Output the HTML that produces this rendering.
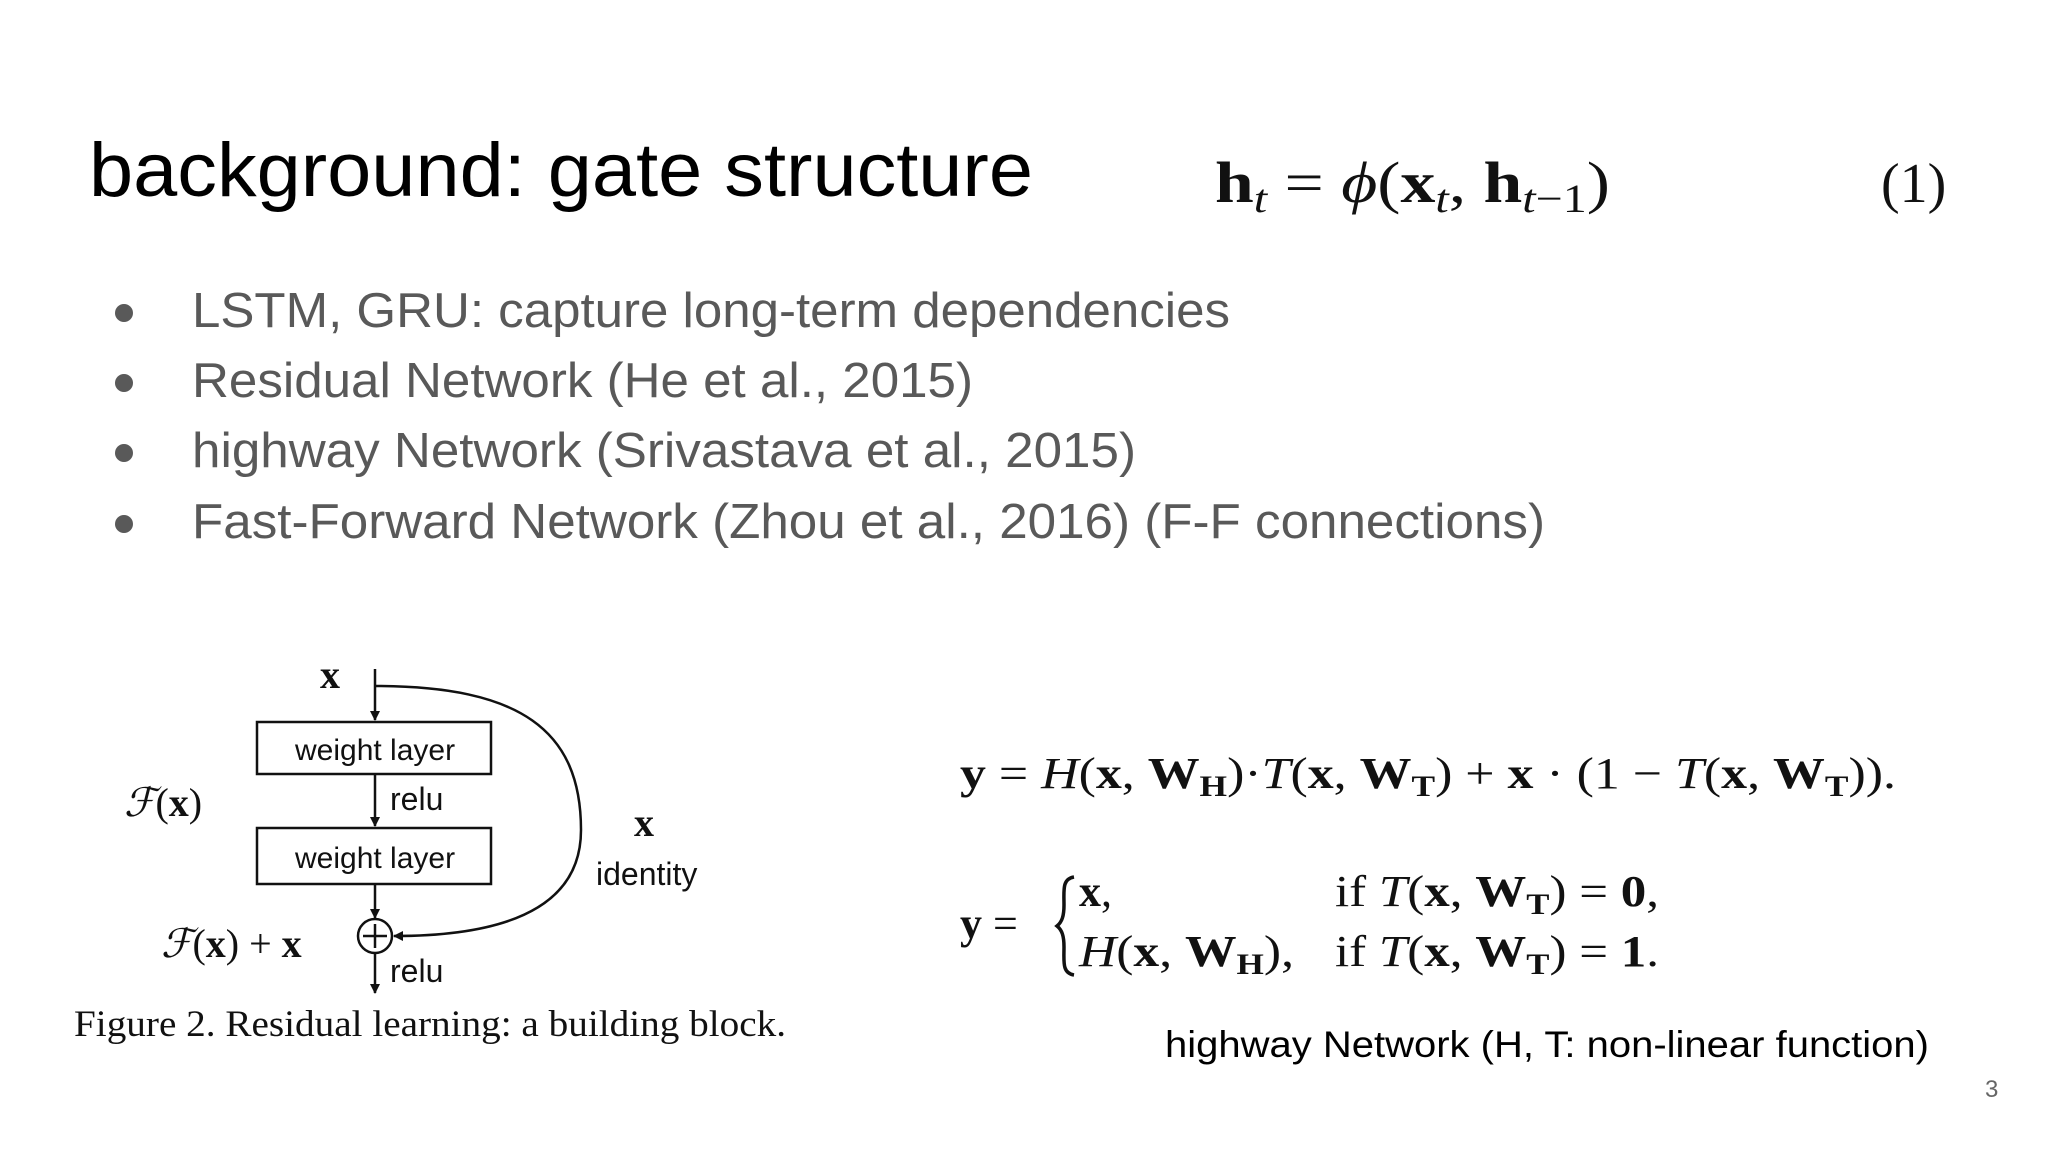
<!DOCTYPE html>
<html><head><meta charset="utf-8"><style>
html,body{margin:0;padding:0;background:#fff;}
svg{display:block}
.s{font-family:"Liberation Serif",serif;fill:#111}
.a{font-family:"Liberation Sans",sans-serif}
</style></head><body>
<svg width="2048" height="1152" viewBox="0 0 2048 1152" xmlns="http://www.w3.org/2000/svg">
<rect width="2048" height="1152" fill="#fff"/>
<text x="89" y="196" class="a" font-size="76" fill="#000" textLength="944" lengthAdjust="spacingAndGlyphs">background: gate structure</text>
<text x="1215" y="202" class="s" font-size="58" textLength="395" lengthAdjust="spacingAndGlyphs"><tspan font-weight="bold">h</tspan><tspan font-style="italic" font-size="40" dy="10">t</tspan><tspan dy="-10"> = </tspan><tspan font-style="italic">ϕ</tspan>(<tspan font-weight="bold">x</tspan><tspan font-style="italic" font-size="40" dy="10">t</tspan><tspan dy="-10">, </tspan><tspan font-weight="bold">h</tspan><tspan font-style="italic" font-size="40" dy="10">t</tspan><tspan font-size="40">−1</tspan><tspan dy="-10">)</tspan></text>
<text x="1881" y="202" class="s" font-size="56">(1)</text>
<g class="a" font-size="49" fill="#595959">
<circle cx="124" cy="313" r="9"/><text x="192" y="327" textLength="1038" lengthAdjust="spacingAndGlyphs">LSTM, GRU: capture long-term dependencies</text>
<circle cx="124" cy="383" r="9"/><text x="192" y="397" textLength="781" lengthAdjust="spacingAndGlyphs">Residual Network (He et al., 2015)</text>
<circle cx="124" cy="453" r="9"/><text x="192" y="467" textLength="944" lengthAdjust="spacingAndGlyphs">highway Network (Srivastava et al., 2015)</text>
<circle cx="124" cy="524" r="9"/><text x="192" y="538" textLength="1353" lengthAdjust="spacingAndGlyphs">Fast-Forward Network (Zhou et al., 2016) (F-F connections)</text>
</g>
<defs><marker id="ar" markerWidth="10" markerHeight="10" refX="9" refY="5" orient="auto" markerUnits="userSpaceOnUse"><path d="M0,0 L10,5 L0,10 Z" fill="#111"/></marker></defs>
<g stroke="#111" stroke-width="2.5" fill="none">
<line x1="375" y1="669" x2="375" y2="720" marker-end="url(#ar)"/>
<rect x="257" y="722" width="234" height="52"/>
<line x1="375" y1="774" x2="375" y2="826" marker-end="url(#ar)"/>
<rect x="257" y="828" width="234" height="56"/>
<line x1="375" y1="884" x2="375" y2="918" marker-end="url(#ar)"/>
<circle cx="375" cy="936" r="17"/>
<line x1="363" y1="936" x2="387" y2="936"/><line x1="375" y1="924" x2="375" y2="948"/>
<line x1="375" y1="953" x2="375" y2="993" marker-end="url(#ar)"/>
<path d="M375,686 C520,686 581,730 581,830 C581,900 520,936 394,936" marker-end="url(#ar)"/>
</g>
<g class="s" font-size="40">
<text x="320" y="688" font-weight="bold">x</text>
<text x="124" y="816"><tspan font-style="italic">ℱ</tspan>(<tspan font-weight="bold">x</tspan>)</text>
<text x="161" y="957"><tspan font-style="italic">ℱ</tspan>(<tspan font-weight="bold">x</tspan>) + <tspan font-weight="bold">x</tspan></text>
<text x="634" y="836" font-weight="bold">x</text>
</g>
<g class="a" font-size="30" fill="#111">
<text x="295" y="760">weight layer</text>
<text x="295" y="868">weight layer</text>
<text x="390" y="810" font-size="32">relu</text>
<text x="390" y="982" font-size="32">relu</text>
<text x="596" y="885" font-size="32">identity</text>
</g>
<text x="74" y="1036" class="s" font-size="37" textLength="712" lengthAdjust="spacingAndGlyphs">Figure 2. Residual learning: a building block.</text>
<g class="s" font-size="44">
<text x="960" y="788" textLength="936" lengthAdjust="spacingAndGlyphs"><tspan font-weight="bold">y</tspan> = <tspan font-style="italic">H</tspan>(<tspan font-weight="bold">x</tspan>, <tspan font-weight="bold">W<tspan font-size="30" dy="8">H</tspan></tspan><tspan dy="-8">)·</tspan><tspan font-style="italic">T</tspan>(<tspan font-weight="bold">x</tspan>, <tspan font-weight="bold">W<tspan font-size="30" dy="8">T</tspan></tspan><tspan dy="-8">) + </tspan><tspan font-weight="bold">x</tspan> · (1 − <tspan font-style="italic">T</tspan>(<tspan font-weight="bold">x</tspan>, <tspan font-weight="bold">W<tspan font-size="30" dy="8">T</tspan></tspan><tspan dy="-8">)).</tspan></text>
<text x="960" y="938"><tspan font-weight="bold">y</tspan> =</text>
<text x="1079" y="906"><tspan font-weight="bold">x</tspan>,</text>
<text x="1079" y="966" textLength="215" lengthAdjust="spacingAndGlyphs"><tspan font-style="italic">H</tspan>(<tspan font-weight="bold">x</tspan>, <tspan font-weight="bold">W<tspan font-size="30" dy="8">H</tspan></tspan><tspan dy="-8">),</tspan></text>
<text x="1335" y="906" textLength="324" lengthAdjust="spacingAndGlyphs">if <tspan font-style="italic">T</tspan>(<tspan font-weight="bold">x</tspan>, <tspan font-weight="bold">W<tspan font-size="30" dy="8">T</tspan></tspan><tspan dy="-8">) = </tspan><tspan font-weight="bold">0</tspan>,</text>
<text x="1335" y="966" textLength="324" lengthAdjust="spacingAndGlyphs">if <tspan font-style="italic">T</tspan>(<tspan font-weight="bold">x</tspan>, <tspan font-weight="bold">W<tspan font-size="30" dy="8">T</tspan></tspan><tspan dy="-8">) = </tspan><tspan font-weight="bold">1</tspan>.</text>
</g>
<path d="M1074,877 C1062,879 1064,890 1064,905 C1064,916 1062,922 1057,926 C1062,930 1064,936 1064,947 C1064,962 1062,973 1074,975" stroke="#111" stroke-width="3.5" fill="none"/>
<text x="1165" y="1057" class="a" font-size="37" fill="#000" textLength="764" lengthAdjust="spacingAndGlyphs">highway Network (H, T: non-linear function)</text>
<text x="1985" y="1097" class="a" font-size="24" fill="#666">3</text>
</svg>
</body></html>
